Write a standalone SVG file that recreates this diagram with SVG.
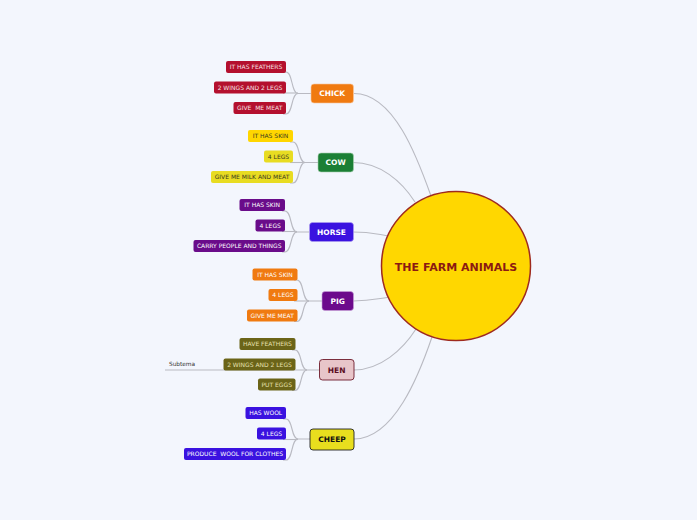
<svg xmlns="http://www.w3.org/2000/svg" width="697" height="520" viewBox="0 0 697 520">
<style>
.bg{fill:#f3f6fd}
.con{fill:none;stroke:#b9bac2;stroke-width:1.1}
.sub rect{rx:2;ry:2}
.sub text{font-family:"DejaVu Sans",Verdana,sans-serif;font-size:6px;text-anchor:middle;white-space:pre}
.main rect{rx:3;ry:3}
.main text{font-family:"DejaVu Sans",Verdana,sans-serif;font-size:7.5px;font-weight:bold;text-anchor:middle}
.w{fill:#ffffff}
.t-chick{fill:#b4102e}
.t-cow1{fill:#ffd600}
.t-cow{fill:#e8dc22}
.t-horse{fill:#6a0c8a}
.t-pig{fill:#f07a10}
.t-hen{fill:#6b6418}
.t-cheep{fill:#3a12e0}
</style>
<rect class="bg" x="0" y="0" width="697" height="520"/>

<g id="connectors">
  <path class="con" d="M354 93.5 C394 93.5 417.5 158 431 196"/>
  <path class="con" d="M353 162.5 C380 162.5 401.5 181 415 202"/>
  <path class="con" d="M353 232 C370 232 376 234 390 236"/>
  <path class="con" d="M353 301 C370 301 376 299 390 297"/>
  <path class="con" d="M354 370 C380 370 402.6 350 416 329"/>
  <path class="con" d="M354 439 C394 439 419 375 432 337"/>
  <path class="con" d="M283 72 H286 C293 72 291 93.5 298 93.5 H311"/>
  <path class="con" d="M283 93 H298"/>
  <path class="con" d="M283 114 H286 C293 114 291 93.5 298 93.5"/>
  <path class="con" d="M290 142 H293 C300 142 298 162.5 305 162.5 H318"/>
  <path class="con" d="M290 162.5 H305"/>
  <path class="con" d="M290 183 H293 C300 183 298 162.5 305 162.5"/>
  <path class="con" d="M282 211 H285 C292 211 290 232 297 232 H309"/>
  <path class="con" d="M282 231.5 H297"/>
  <path class="con" d="M282 252 H285 C292 252 290 232 297 232"/>
  <path class="con" d="M294 280 H297 C304 280 302 301 309 301 H322"/>
  <path class="con" d="M294 301 H309"/>
  <path class="con" d="M294 321.5 H297 C304 321.5 302 301 309 301"/>
  <path class="con" d="M292 350 H295 C302 350 300 370 307 370 H319"/>
  <path class="con" d="M165 370 H307"/>
  <path class="con" d="M292 390.5 H295 C302 390.5 300 370 307 370"/>
  <path class="con" d="M283 419 H286 C293 419 291 439 298 439 H310"/>
  <path class="con" d="M283 439.5 H298"/>
  <path class="con" d="M283 460 H286 C293 460 291 439 298 439"/>
</g>

<g id="center">
  <circle cx="456" cy="266" r="74.5" fill="#ffd700" stroke="#9e2a1e" stroke-width="1.5"/>
  <text x="456" y="270.5" font-family="DejaVu Sans,Verdana,sans-serif" font-size="11" font-weight="bold" fill="#8b1a12" text-anchor="middle">THE FARM ANIMALS</text>
</g>

<g id="chick" class="main"><rect x="311" y="84" width="42.5" height="19" fill="#f07a10" stroke="#f8c8a0" stroke-width="0.6"/><text class="w" x="332.2" y="96.3">CHICK</text></g>
<g id="chick-1" class="sub"><rect class="t-chick" x="226" y="61" width="60" height="12"/><text x="256" y="69.2" fill="#f6e0e3">IT HAS FEATHERS</text></g>
<g id="chick-2" class="sub"><rect class="t-chick" x="214" y="81.5" width="72" height="12"/><text x="250" y="89.7" fill="#f6e0e3">2 WINGS AND 2 LEGS</text></g>
<g id="chick-3" class="sub"><rect class="t-chick" x="233.5" y="102" width="52.5" height="12"/><text x="259.7" y="110.2" fill="#f6e0e3" xml:space="preserve">GIVE  ME MEAT</text></g>

<g id="cow" class="main"><rect x="318" y="153" width="35.5" height="19" fill="#1b7f35" stroke="#a8d0b0" stroke-width="0.6"/><text class="w" x="335.7" y="165.3">COW</text></g>
<g id="cow-1" class="sub"><rect class="t-cow1" x="248" y="130" width="45" height="12"/><text x="270.5" y="138.2" fill="#3a3a20">IT HAS SKIN</text></g>
<g id="cow-2" class="sub"><rect class="t-cow" x="264" y="150.5" width="29" height="12"/><text x="278.5" y="158.7" fill="#3a3a20">4 LEGS</text></g>
<g id="cow-3" class="sub"><rect class="t-cow" x="211" y="171" width="82" height="12"/><text x="252" y="179.2" fill="#3a3a20">GIVE ME MILK AND MEAT</text></g>

<g id="horse" class="main"><rect x="309.5" y="222.5" width="44" height="19" fill="#3a12e0" stroke="#b0a0f0" stroke-width="0.6"/><text class="w" x="331.5" y="234.8">HORSE</text></g>
<g id="horse-1" class="sub"><rect class="t-horse" x="239.5" y="199" width="45.5" height="12"/><text class="w" x="262.2" y="207.2">IT HAS SKIN</text></g>
<g id="horse-2" class="sub"><rect class="t-horse" x="255.5" y="219.5" width="29.5" height="12"/><text class="w" x="270.2" y="227.7">4 LEGS</text></g>
<g id="horse-3" class="sub"><rect class="t-horse" x="193.5" y="240" width="91.5" height="12"/><text class="w" x="239.2" y="248.2">CARRY PEOPLE AND THINGS</text></g>

<g id="pig" class="main"><rect x="322" y="291.5" width="31.5" height="19" fill="#6c0a8c" stroke="#c8a0d8" stroke-width="0.6"/><text class="w" x="337.7" y="303.8">PIG</text></g>
<g id="pig-1" class="sub"><rect class="t-pig" x="252.5" y="268.5" width="45" height="12"/><text class="w" x="275" y="276.7">IT HAS SKIN</text></g>
<g id="pig-2" class="sub"><rect class="t-pig" x="268.5" y="289" width="29" height="12"/><text class="w" x="283" y="297.2">4 LEGS</text></g>
<g id="pig-3" class="sub"><rect class="t-pig" x="247" y="309.5" width="50.5" height="12"/><text class="w" x="272.2" y="317.7">GIVE ME MEAT</text></g>

<g id="hen" class="main"><rect x="319.5" y="359.5" width="34.5" height="20.5" fill="#e8c5c9" stroke="#6e1a2a" stroke-width="0.9"/><text x="336.7" y="372.5" fill="#5c0f1f">HEN</text></g>
<g id="hen-1" class="sub"><rect class="t-hen" x="239.5" y="338" width="56" height="12"/><text x="267.5" y="346.2" fill="#e6e0b0">HAVE FEATHERS</text></g>
<g id="hen-2" class="sub"><rect class="t-hen" x="223.5" y="358.5" width="72" height="12"/><text x="259.5" y="366.7" fill="#e6e0b0">2 WINGS AND 2 LEGS</text></g>
<g id="hen-3" class="sub"><rect class="t-hen" x="258" y="378.5" width="37.5" height="12"/><text x="276.7" y="386.7" fill="#e6e0b0">PUT EGGS</text></g>
<g id="subtema"><text x="169" y="365.5" font-family="DejaVu Sans,Verdana,sans-serif" font-size="5.8" fill="#333">Subtema</text></g>

<g id="cheep" class="main"><rect x="310" y="429" width="44" height="21" fill="#e8de1e" stroke="#222" stroke-width="0.9"/><text x="332" y="442.3" fill="#111">CHEEP</text></g>
<g id="cheep-1" class="sub"><rect class="t-cheep" x="245.5" y="407" width="40.5" height="12"/><text class="w" x="265.7" y="415.2">HAS WOOL</text></g>
<g id="cheep-2" class="sub"><rect class="t-cheep" x="257" y="427.5" width="29" height="12"/><text class="w" x="271.5" y="435.7">4 LEGS</text></g>
<g id="cheep-3" class="sub"><rect class="t-cheep" x="184" y="448" width="102" height="12"/><text class="w" x="235" y="456.2" xml:space="preserve">PRODUCE  WOOL FOR CLOTHES</text></g>
</svg>
